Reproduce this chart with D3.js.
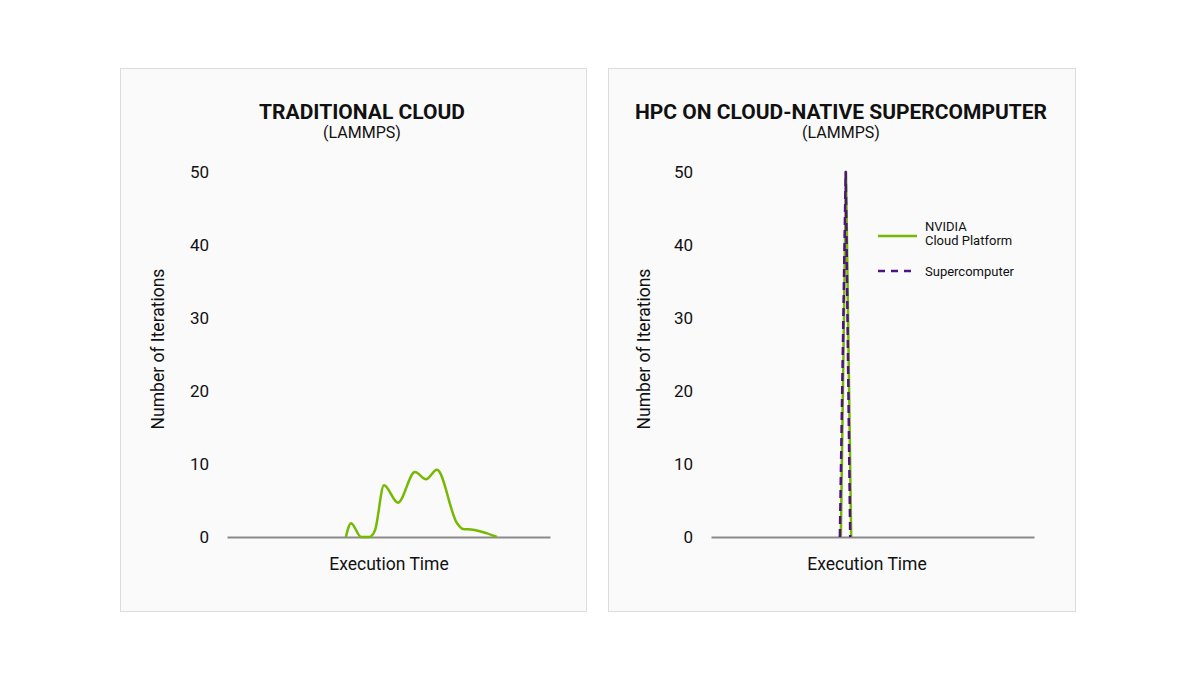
<!DOCTYPE html>
<html>
<head>
<meta charset="utf-8">
<script src="https://cdn.jsdelivr.net/npm/d3@7"></script>
<style>
  html, body { margin: 0; padding: 0; background: #fff; }
  text { font-family: Roboto, "Noto Sans", sans-serif; fill: #111; }
</style>
</head>
<body>
<div id="chart"></div>
<script>
// execution time is in arbitrary units 0..100 along the x axis
const yTicks = [0, 10, 20, 30, 40, 50];

const cloudTime  = [36.8, 38.4, 41.5, 44.0, 45.8, 48.6, 52.9, 58.2, 61.6, 65.0, 71.2, 73.0, 76.2, 80.5, 83.6];
const cloudIters = [0,    1.9,  0,    0,    0.9,  7.1,  4.7,  8.9,  7.9,  9.2,  1.9,  1.1,  1.0,  0.5,  0];

const nvidiaTime  = [40.2, 41.8, 43.4];
const nvidiaIters = [0,    50,   0];

const superTime  = [39.9, 41.7, 43.1];
const superIters = [0,    50,   0];

const legendLabels = [["NVIDIA", "Cloud Platform"], ["Supercomputer"]];

const green = "#76b900";
const purple = "#4e1380";

function clear(node) {
  d3.select(node).selectAll("svg").remove();
}

function drawPanel(svg, params) {
  const g = svg.append("g");

  g.append("rect")
    .attr("x", params.box[0] + 0.5).attr("y", params.box[1] + 0.5)
    .attr("width", params.box[2]).attr("height", params.box[3])
    .attr("fill", "#fafafa")
    .attr("stroke", "#dcdcdc");

  g.append("text")
    .attr("x", params.titleX).attr("y", 119)
    .attr("text-anchor", "middle")
    .attr("font-size", 21).attr("font-weight", 700)
    .text(params.title);

  g.append("text")
    .attr("x", params.titleX).attr("y", 138)
    .attr("text-anchor", "middle")
    .attr("font-size", 16)
    .text("(LAMMPS)");

  const x = d3.scaleLinear().domain([0, 100]).range(params.xRange);
  const y = d3.scaleLinear().domain([0, 50]).range([537, 172]);

  const yAxis = g.append("g")
    .attr("transform", `translate(${params.xRange[0]},0)`)
    .call(d3.axisLeft(y).tickValues(yTicks).tickSize(0).tickPadding(18));
  yAxis.select(".domain").remove();
  yAxis.selectAll("text")
    .attr("font-size", 17)
    .attr("font-family", "Roboto, sans-serif")
    .attr("fill", "#111");

  const xAxis = g.append("g")
    .attr("transform", "translate(0,537)")
    .call(d3.axisBottom(x).tickValues([]).tickSizeOuter(0));
  xAxis.select(".domain")
    .attr("stroke", "#8a8a8a")
    .attr("stroke-width", 2);

  g.append("text")
    .attr("x", params.xLabelX).attr("y", 570)
    .attr("text-anchor", "middle")
    .attr("font-size", 17.5)
    .text("Execution Time");

  g.append("text")
    .attr("transform", `translate(${params.yLabelX},349) rotate(-90)`)
    .attr("text-anchor", "middle")
    .attr("font-size", 17.5)
    .text("Number of Iterations");

  params.series.forEach((s) => {
    const line = d3.line()
      .x((d, i) => x(s.time[i]))
      .y((d) => y(d))
      .curve(s.curve);
    g.append("path")
      .attr("d", line(s.values))
      .attr("fill", "none")
      .attr("stroke", s.color)
      .attr("stroke-width", 2.5)
      .attr("stroke-dasharray", s.dash || null)
      .attr("stroke-linejoin", "round");
  });

  return { g: g, x: x, y: y };
}

function render(node) {
  const width = 1200;
  const height = 675;

  clear(node);

  const svg = d3.select(node).append("svg")
    .attr("viewBox", [0, 0, width, height])
    .attr("width", width)
    .attr("height", height);

  drawPanel(svg, {
    box: [120, 68, 466, 543],
    title: "TRADITIONAL CLOUD",
    titleX: 362,
    xRange: [227, 550],
    xLabelX: 389,
    yLabelX: 164,
    series: [
      { time: cloudTime, values: cloudIters, color: green, curve: d3.curveMonotoneX }
    ]
  });

  drawPanel(svg, {
    box: [608, 68, 467, 543],
    title: "HPC ON CLOUD-NATIVE SUPERCOMPUTER",
    titleX: 841,
    xRange: [711, 1034],
    xLabelX: 867,
    yLabelX: 650,
    series: [
      { time: nvidiaTime, values: nvidiaIters, color: green, curve: d3.curveLinear },
      { time: superTime, values: superIters, color: purple, curve: d3.curveLinear, dash: "8,5" }
    ]
  });

  // legend
  const legend = svg.append("g");
  const rows = [
    { y: 236, color: green, dash: null, labels: legendLabels[0], textY: 231 },
    { y: 271, color: purple, dash: "7,6", labels: legendLabels[1], textY: 276 }
  ];
  rows.forEach((r) => {
    legend.append("line")
      .attr("x1", 878).attr("x2", 917)
      .attr("y1", r.y).attr("y2", r.y)
      .attr("stroke", r.color)
      .attr("stroke-width", 2.5)
      .attr("stroke-dasharray", r.dash);
    r.labels.forEach((t, i) => {
      legend.append("text")
        .attr("x", 925).attr("y", r.textY + i * 14)
        .attr("font-size", 13)
        .text(t);
    });
  });

  return svg.node();
}

render(document.getElementById("chart"));
</script>
</body>
</html>
